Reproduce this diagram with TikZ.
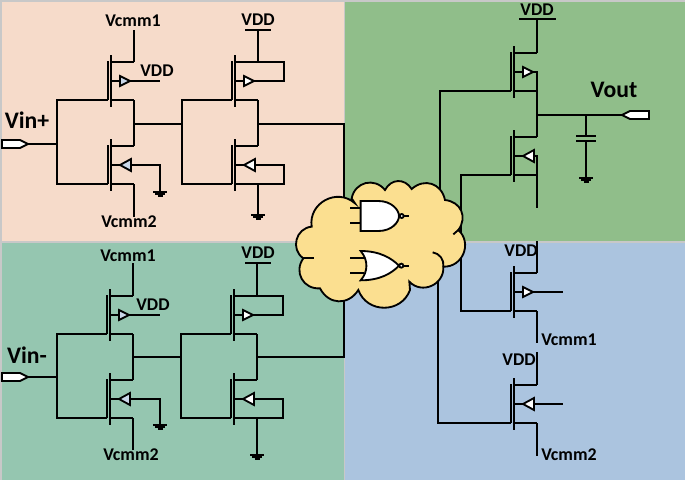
\documentclass[tikz,border=0pt]{standalone}
\usepackage{fontspec}
\setmainfont{Carlito}
\tikzset{>=stealth}
\definecolor{peach}{HTML}{F6DBCA}
\definecolor{teal}{HTML}{95C6B0}
\definecolor{leaf}{HTML}{90BE8A}
\definecolor{sky}{HTML}{ABC4DF}
\definecolor{sand}{HTML}{FBDF90}
\definecolor{tri}{HTML}{C9D6E8}
\definecolor{edge}{HTML}{C8C8C8}
\tikzset{
    wire/.style={line width=1.05pt, line join=miter},
    small/.style={font=\bfseries\fontsize{10.2}{12}\selectfont, inner sep=0pt},
    big/.style={font=\bfseries\fontsize{13.5}{15}\selectfont, inner sep=0pt},
    pin/.style={wire, fill=white},
    pics/mosp/.style={code={
        \draw[wire] (-3,-20) -- (-3,19);
        \draw[wire] (0,-26) -- (0,26);
        \draw[wire] (0,-19) -- (23,-19) coordinate (-top);
        \draw[wire] (0,19) -- (23,19) coordinate (-bot);
        \draw[wire] (0,0) -- (9,0);
        \draw[wire, fill=#1] (9,-5) -- (19,0) -- (9,5) -- cycle;
        \coordinate (-gate) at (-3,19);
        \coordinate (-tip) at (19,0);
    }},
    pics/mosn/.style={code={
        \draw[wire] (-3,-20) -- (-3,19);
        \draw[wire] (0,-26) -- (0,26);
        \draw[wire] (0,-19) -- (23,-19) coordinate (-top);
        \draw[wire] (0,19) -- (23,19) coordinate (-bot);
        \draw[wire] (0,0) -- (9,0);
        \draw[wire, fill=#1] (9,0) -- (20,-6) -- (20,6) -- cycle;
        \coordinate (-gate) at (-3,19);
        \coordinate (-tip) at (20,0);
    }},
    pics/gnd/.style={code={
        \draw[line width=1.6pt] (-7,0) -- (7,0);
        \draw[line width=1.6pt] (-5,2) -- (5,2);
        \draw[line width=1.3pt] (-2.5,4) -- (2.5,4);
    }}
}
\begin{document}
\begin{tikzpicture}[x=0.02cm, y=-0.02cm]
    \useasboundingbox (0,0) rectangle (685,480);
    \fill[edge] (0,0) rectangle (685,480);
    \fill[peach] (2,2) rectangle (344,241);
    \fill[teal] (2,243) rectangle (344,480);
    \fill[leaf] (345,2) rectangle (685,241);
    \fill[sky] (345,243) rectangle (685,480);

    \pic (a1) at (111,81) {mosp=tri};
    \pic (a2) at (111,165) {mosn=tri};
    \pic (a3) at (235,81) {mosp=white};
    \pic (a4) at (235,165) {mosn=white};
    \coordinate (ain) at (28,144);
    \coordinate (aleft) at (57,144);
    \coordinate (amid) at (134,124);
    \coordinate (bleft) at (182,124);
    \coordinate (bmid) at (258,124);
    \coordinate (aout) at (344,200);
    \coordinate (aw1) at (134,30);
    \coordinate (aw2) at (134,217);
    \coordinate (avdd) at (160,81);
    \coordinate (ag1) at (160,192);
    \coordinate (bvdd) at (258,30);
    \coordinate (bg) at (258,215);
    \draw[wire] (ain) -- (aleft);
    \draw[wire] (a1-gate) -| (aleft) |- (a2-gate);
    \draw[wire] (a1-bot) -- (a2-top);
    \draw[wire] (amid) -- (bleft);
    \draw[wire] (a3-gate) -| (bleft) |- (a4-gate);
    \draw[wire] (a3-bot) -- (a4-top);
    \draw[wire] (bmid) -| (aout);
    \draw[wire] (aw1) -- (a1-top);
    \draw[wire] (aw2) -- (a2-bot);
    \draw[wire] (a1-tip) -- (avdd);
    \draw[wire] (a2-tip) -| (ag1);
    \draw[wire] (bvdd) -- (a3-top);
    \draw[wire] (245,30) -- (bvdd) -- (271,30);
    \draw[wire] (a3-top) -- ++(26,0) |- (a3-tip);
    \draw[wire] (a4-tip) -- ++(29,0) |- (a4-bot);
    \draw[wire] (a4-bot) -- (bg);
    \pic at (ag1) {gnd};
    \pic at (bg) {gnd};
    \draw[pin] (2,140) -- (20,140) -- (ain) -- (20,148) -- (2,148) -- cycle;
    \node[big] (vinp) at (27,120) {Vin+};
    \node[small] (acm1) at (133,21) {Vcmm1};
    \node[small] (acm2) at (129,222) {Vcmm2};
    \node[small] (avd) at (157,71) {VDD};
    \node[small] (bvd) at (258,20) {VDD};

    \pic (c1) at (110,315) {mosp=tri};
    \pic (c2) at (110,399) {mosn=tri};
    \pic (c3) at (234,315) {mosp=white};
    \pic (c4) at (234,399) {mosn=white};
    \coordinate (cin) at (28,377);
    \coordinate (cleft) at (57,377);
    \coordinate (cmid) at (133,357);
    \coordinate (dleft) at (181,357);
    \coordinate (dmid) at (257,357);
    \coordinate (cout) at (344,290);
    \coordinate (cw1) at (133,263);
    \coordinate (cw2) at (133,450);
    \coordinate (cvdd) at (160,315);
    \coordinate (cg1) at (160,425);
    \coordinate (dvdd) at (257,263);
    \coordinate (dg) at (257,455);
    \draw[wire] (cin) -- (cleft);
    \draw[wire] (c1-gate) -| (cleft) |- (c2-gate);
    \draw[wire] (c1-bot) -- (c2-top);
    \draw[wire] (cmid) -- (dleft);
    \draw[wire] (c3-gate) -| (dleft) |- (c4-gate);
    \draw[wire] (c3-bot) -- (c4-top);
    \draw[wire] (dmid) -| (cout);
    \draw[wire] (cw1) -- (c1-top);
    \draw[wire] (cw2) -- (c2-bot);
    \draw[wire] (c1-tip) -- (cvdd);
    \draw[wire] (c2-tip) -| (cg1);
    \draw[wire] (dvdd) -- (c3-top);
    \draw[wire] (245,263) -- (dvdd) -- (271,263);
    \draw[wire] (c3-top) -- ++(26,0) |- (c3-tip);
    \draw[wire] (c4-tip) -- ++(29,0) |- (c4-bot);
    \draw[wire] (c4-bot) -- (dg);
    \pic at (cg1) {gnd};
    \pic at (dg) {gnd};
    \draw[pin] (2,373) -- (20,373) -- (cin) -- (20,381) -- (2,381) -- cycle;
    \node[big] (vinm) at (27,355) {Vin-};
    \node[small] (ccm1) at (128,256) {Vcmm1};
    \node[small] (ccm2) at (131,455) {Vcmm2};
    \node[small] (cvd) at (153,305) {VDD};
    \node[small] (dvd) at (258,253) {VDD};

    \pic (e1) at (514,72) {mosp=white};
    \pic (e2) at (514,156) {mosn=white};
    \coordinate (evdd) at (537,19);
    \coordinate (emid) at (537,115);
    \coordinate (ebot) at (537,208);
    \coordinate (eout) at (622,115);
    \coordinate (ecap) at (586,115);
    \coordinate (ecap1) at (586,136);
    \coordinate (ecap2) at (586,141);
    \coordinate (eg) at (586,178);
    \coordinate (enand) at (440,190);
    \coordinate (enor) at (461,190);
    \draw[wire] (evdd) -- (e1-top);
    \draw[wire] (519,19) -- (556,19);
    \draw[wire] (e1-tip) -- ++(4,0) -- (e2-top);
    \draw[wire] (e2-tip) -- ++(3,0) -- (ebot);
    \draw[wire] (emid) -- (eout);
    \draw[wire] (ecap) -- (ecap1);
    \draw[wire] (ecap2) -- (eg);
    \draw[wire] (576,136) -- (596,136);
    \draw[wire] (576,141) -- (596,141);
    \pic at (eg) {gnd};
    \draw[pin] (eout) -- (630,111) -- (649,111) -- (649,119) -- (630,119) -- cycle;
    \node[big] (vout) at (614,90) {Vout};
    \node[small] (evd) at (537,10) {VDD};

    \pic (f1) at (514,292) {mosp=white};
    \pic (f2) at (514,404) {mosn=white};
    \coordinate (fb1) at (563,292);
    \coordinate (fb2) at (563,404);
    \coordinate (fw1) at (537,241);
    \coordinate (fw2) at (537,343);
    \coordinate (fw3) at (537,352);
    \coordinate (fw4) at (537,456);
    \coordinate (fnor) at (438,270);
    \draw[wire] (fw1) -- (f1-top);
    \draw[wire] (f1-bot) -- (fw2);
    \draw[wire] (fw3) -- (f2-top);
    \draw[wire] (f2-bot) -- (fw4);
    \draw[wire] (f1-tip) -- (fb1);
    \draw[wire] (f2-tip) -- (fb2);
    \draw[wire] (enand) -- (440,91) -- (e1-gate);
    \draw[wire] (enor) |- (e2-gate);
    \draw[wire] (enor) |- (f1-gate);
    \draw[wire] (fnor) |- (f2-gate);
    \node[small] (fvd1) at (521,251) {VDD};
    \node[small] (fcm1) at (569,340) {Vcmm1};
    \node[small] (fvd2) at (519,360) {VDD};
    \node[small] (fcm2) at (569,455) {Vcmm2};

    \begin{scope}[shift={(290,175)}, x=0.00667cm, y=-0.00667cm]
        \draw[wire, fill=sand, looseness=1.25] (65,155) to[bend left=70] (195,85)
            -- (185,70) to[bend left=65] (285,45)
            to[bend left=60] (365,42)
            to[bend left=60] (465,75)
            to[bend left=60] (505,165)
            to[bend left=70] (460,275)
            to[bend left=70] (358,320)
            -- (360,345) to[bend left=70] (205,345)
            to[bend left=60] (90,340)
            to[bend left=65] (40,250)
            to[bend left=70] (65,155) -- cycle;
        \draw[wire] (40,250) -- (72,250);
        \draw[wire] (505,165) -- (490,178);
        \draw[wire] (428,232) to[bend left=45] (460,275);
        \draw[wire] (180,100) -- (212,100);
        \draw[wire] (180,145) -- (212,145);
        \draw[wire, fill=white] (212,78) -- (265,78) .. controls (305,78) and (327,105) .. (327,123) .. controls (327,142) and (305,168) .. (265,168) -- (212,168) -- cycle;
        \draw[wire, fill=white] (335,123) circle (6);
        \draw[wire] (341,123) -- (358,123);
        \draw[wire] (180,250) -- (222,250);
        \draw[wire] (180,295) -- (222,295);
        \draw[wire, fill=white] (212,228) .. controls (270,228) and (305,250) .. (327,272) .. controls (305,295) and (270,316) .. (212,316) .. controls (235,290) and (235,255) .. (212,228) -- cycle;
        \draw[wire, fill=white] (334,272) circle (6);
        \draw[wire] (340,272) -- (358,272);
    \end{scope}
\end{tikzpicture}
\end{document}
